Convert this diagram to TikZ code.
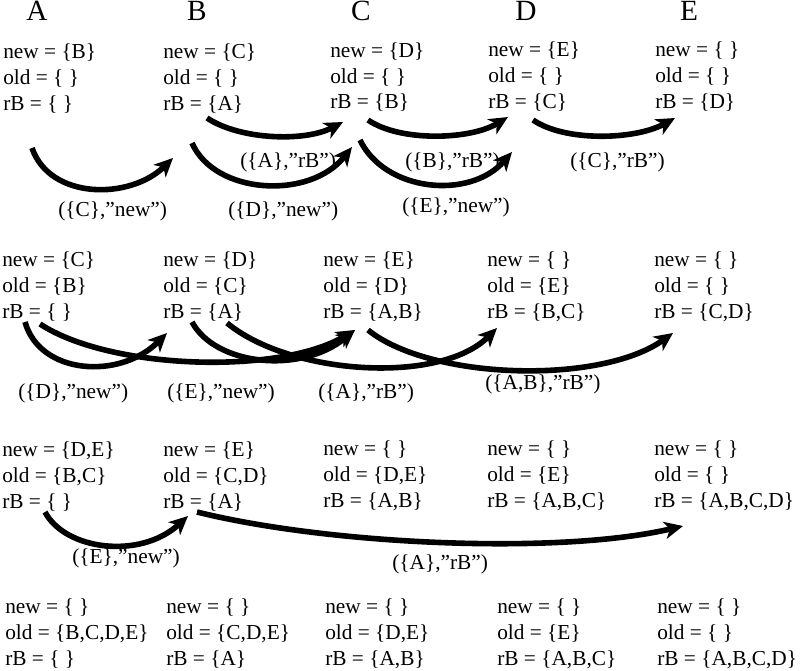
\documentclass[tikz,border=0pt]{standalone}
\usepackage{fontspec}
\setmainfont{Liberation Serif}
\usetikzlibrary{arrows.meta}

\newcommand{\sets}[3]{\begin{tabular}[t]{@{}l@{}}new = \{#1\}\\ old = \{#2\}\\ rB = \{#3\}\end{tabular}}

\begin{document}
\begin{tikzpicture}[x=0.75pt, y=-0.75pt,
                    every node/.style={inner sep=0pt, anchor=base west},
                    proc/.style={anchor=base, font=\fontsize{22}{26}\selectfont},
                    state/.style={font=\fontsize{16}{19.5}\selectfont},
                    msg/.style={font=\fontsize{16}{19.5}\selectfont},
                    send/.style={draw, line width=4.2pt,
                                 -{Stealth[length=14pt,width=13pt,inset=4pt]}}]
 \useasboundingbox (0,0) rectangle (801,671);

 \node[proc] (pA) at (37,21) {A};
 \node[proc] (pB) at (197,21) {B};
 \node[proc] (pC) at (361,21) {C};
 \node[proc] (pD) at (526,21) {D};
 \node[proc] (pE) at (689,21) {E};

 \node[state] (a1) at (3,59) {\sets{B}{ }{ }};
 \node[state] (b1) at (163,59) {\sets{C}{ }{A}};
 \node[state] (c1) at (330,57) {\sets{D}{ }{B}};
 \node[state] (d1) at (488,56) {\sets{E}{ }{C}};
 \node[state] (e1) at (655,56) {\sets{ }{ }{D}};

 \node[state] (a2) at (2,266) {\sets{C}{B}{ }};
 \node[state] (b2) at (163,266) {\sets{D}{C}{A}};
 \node[state] (c2) at (323,266) {\sets{E}{D}{A,B}};
 \node[state] (d2) at (487,266) {\sets{ }{E}{B,C}};
 \node[state] (e2) at (654,266) {\sets{ }{ }{C,D}};

 \node[state] (a3) at (2,456) {\sets{D,E}{B,C}{ }};
 \node[state] (b3) at (163,456) {\sets{E}{C,D}{A}};
 \node[state] (c3) at (323,455) {\sets{ }{D,E}{A,B}};
 \node[state] (d3) at (487,455) {\sets{ }{E}{A,B,C}};
 \node[state] (e3) at (654,455) {\sets{ }{ }{A,B,C,D}};

 \node[state] (a4) at (5,613) {\sets{ }{B,C,D,E}{ }};
 \node[state] (b4) at (166,613) {\sets{ }{C,D,E}{A}};
 \node[state] (c4) at (325,613) {\sets{ }{D,E}{A,B}};
 \node[state] (d4) at (497,613) {\sets{ }{E}{A,B,C}};
 \node[state] (e4) at (657,613) {\sets{ }{ }{A,B,C,D}};

 \node[msg] (m1ab) at (58,216) {(\{C\},''new'')};
 \node[msg] (r1bc) at (240,167) {(\{A\},''rB'')};
 \node[msg] (m1bc) at (228,216) {(\{D\},''new'')};
 \node[msg] (r1cd) at (405,167) {(\{B\},''rB'')};
 \node[msg] (m1cd) at (402,212) {(\{E\},''new'')};
 \node[msg] (r1de) at (570,167) {(\{C\},''rB'')};

 \node[msg] (m2ab) at (18,398) {(\{D\},''new'')};
 \node[msg] (m2ac) at (167,398) {(\{E\},''new'')};
 \node[msg] (r2bd) at (318,398) {(\{A\},''rB'')};
 \node[msg] (r2ce) at (485,389) {(\{A,B\},''rB'')};

 \node[msg] (m3ab) at (72,563) {(\{E\},''new'')};
 \node[msg] (r3be) at (392,569) {(\{A\},''rB'')};

 \draw[send] ([shift={(29,89)}]a1.base west) .. controls +(18,52) and +(-43,42) .. ([shift={(10,99)}]b1.base west);
 \draw[send] ([shift={(44,59)}]b1.base west) .. controls +(33,22) and +(-38,20) .. ([shift={(13,65)}]c1.base west);
 \draw[send] ([shift={(29,84)}]b1.base west) .. controls +(23,52) and +(-42,53) .. ([shift={(22,90)}]c1.base west);
 \draw[send] ([shift={(38,63)}]c1.base west) .. controls +(32,22) and +(-38,23) .. ([shift={(20,61)}]d1.base west);
 \draw[send] ([shift={(30,83)}]c1.base west) .. controls +(25,52) and +(-42,48) .. ([shift={(24,96)}]d1.base west);
 \draw[send] ([shift={(45,64)}]d1.base west) .. controls +(32,22) and +(-40,22) .. ([shift={(20,62)}]e1.base west);

 \draw[send] ([shift={(23,56)}]a2.base west) .. controls +(15,53) and +(-47,47) .. ([shift={(4,67)}]b2.base west);
 \draw[send] ([shift={(38,58)}]a2.base west) .. controls +(70,46) and +(-75,45) .. ([shift={(32,64)}]c2.base west);
 \draw[send] ([shift={(29,56)}]b2.base west) .. controls +(23,43) and +(-55,45) .. ([shift={(32,64)}]c2.base west);
 \draw[send] ([shift={(64,57)}]b2.base west) .. controls +(63,52) and +(-57,57) .. ([shift={(10,62)}]d2.base west);
 \draw[send] ([shift={(45,64)}]c2.base west) .. controls +(62,50) and +(-73,52) .. ([shift={(19,67)}]e2.base west);

 \draw[send] ([shift={(43,56)}]a3.base west) .. controls +(20,38) and +(-48,44) .. ([shift={(25,60)}]b3.base west);
 \draw[send] ([shift={(34,56)}]b3.base west) .. controls +(133,33) and +(-123,29) .. ([shift={(29,71)}]e3.base west);
\end{tikzpicture}
\end{document}
